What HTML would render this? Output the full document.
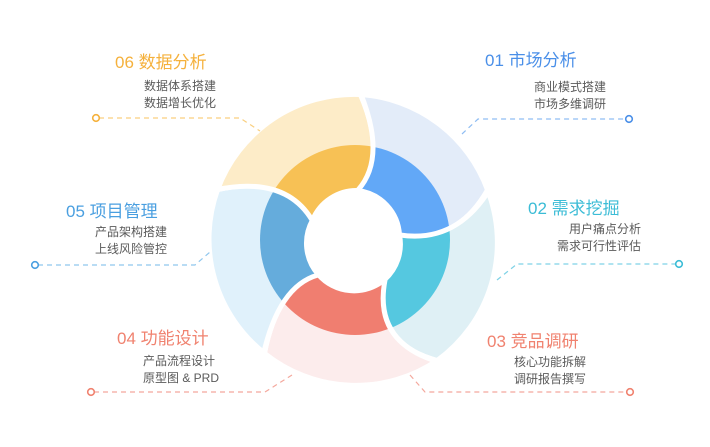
<!DOCTYPE html>
<html><head><meta charset="utf-8"><style>
body{margin:0;width:710px;height:447px;background:#fff;position:relative;overflow:hidden;font-family:"Liberation Sans","Noto Sans CJK SC",sans-serif}
.t{position:absolute;font-size:17px;white-space:nowrap;line-height:20px}
.s{position:absolute;font-size:12px;color:#5a5a5a;line-height:17px;white-space:nowrap}
.r{text-align:right}
</style></head><body>
<svg width="710" height="447" style="position:absolute;left:0;top:0">
<defs>
<clipPath id="ci"><circle cx="355" cy="240" r="95"/></clipPath>
<path id="p1" d="M360,95 A145,145 0 0 1 487,190 Q456.5,243.5 400,235 A48,48 0 0 0 358,190 Q387,157.5 360,95 Z"/>
<path id="p2" d="M487,190 A145,145 0 0 1 437,360 Q373,342.5 385,280 A48,48 0 0 0 400,235 Q456.5,243.5 487,190 Z"/>
<path id="p3" d="M437,360 A145,145 0 0 1 265,353 Q278.5,286 318,275 A48,48 0 0 0 385,280 Q373,342.5 437,360 Z"/>
<path id="p4" d="M265,353 A145,145 0 0 1 218,190 Q285,175 312,220 A48,48 0 0 0 318,275 Q278.5,286 265,353 Z"/>
<path id="p5" d="M218,190 A145,145 0 0 1 360,95 Q387,157.5 358,190 A48,48 0 0 0 312,220 Q285,175 218,190 Z"/>
</defs>
<g stroke="#fff" stroke-width="4" stroke-linejoin="round">
<use href="#p1" fill="#e3ecf9"/><use href="#p2" fill="#dff0f5"/><use href="#p3" fill="#fcecec"/><use href="#p4" fill="#e0f1fb"/><use href="#p5" fill="#fdecc8"/>
</g>
<g clip-path="url(#ci)" stroke="#fff" stroke-width="4" stroke-linejoin="round">
<use href="#p1" fill="#62a8f7"/><use href="#p2" fill="#55c8e0"/><use href="#p3" fill="#f07e70"/><use href="#p4" fill="#65acdc"/><use href="#p5" fill="#f7c155"/>
</g>
<g fill="none" stroke="#fff" stroke-width="5" stroke-linecap="round">
<path d="M360,92 Q387,157.5 358,190"/>
<path d="M490,189 Q456.5,243.5 400,235"/>
<path d="M439,362 Q373,342.5 385,280"/>
<path d="M263,356 Q278.5,286 318,275"/>
<path d="M215,190 Q285,175 312,220"/>
</g>
<circle cx="355" cy="240" r="46" fill="#fff"/>
<g fill="none" stroke-width="1.2" stroke-dasharray="5,4">
<path d="M462,134 L478,119 L625,119" stroke="#8fbdf3"/>
<path d="M497,280 L517,264 L675,264" stroke="#7fd2e6"/>
<path d="M410,375 L425,392 L627,392" stroke="#f4a89d"/>
<path d="M99,118 L240,118 L260,131" stroke="#f9cf7f"/>
<path d="M38,265 L195,265 L210,252" stroke="#8fc6ee"/>
<path d="M94,392 L265,392 L292,375" stroke="#f4a89d"/>
</g>
<g fill="#fff" stroke-width="1.6">
<circle cx="629" cy="119" r="3.3" stroke="#4a8fe8"/>
<circle cx="679" cy="264" r="3.3" stroke="#3bbcd6"/>
<circle cx="630" cy="392" r="3.3" stroke="#f0826f"/>
<circle cx="96" cy="118" r="3.3" stroke="#f5b13c"/>
<circle cx="35" cy="265" r="3.3" stroke="#4a9fe0"/>
<circle cx="91" cy="392" r="3.3" stroke="#f0826f"/>
</g>
</svg>
<div class="t" style="left:485px;top:51px;color:#4a8fe8">01 市场分析</div>
<div class="s r" style="right:104px;top:79px">商业模式搭建<br>市场多维调研</div>
<div class="t" style="left:528px;top:199px;color:#3bbcd6">02 需求挖掘</div>
<div class="s r" style="right:69px;top:221px">用户痛点分析<br>需求可行性评估</div>
<div class="t" style="left:487px;top:332px;color:#f0826f">03 竞品调研</div>
<div class="s r" style="right:124px;top:354px">核心功能拆解<br>调研报告撰写</div>
<div class="t" style="left:115px;top:53px;color:#f5b13c">06 数据分析</div>
<div class="s" style="left:144px;top:78px">数据体系搭建<br>数据增长优化</div>
<div class="t" style="left:66px;top:202px;color:#4a9fe0">05 项目管理</div>
<div class="s" style="left:95px;top:224px">产品架构搭建<br>上线风险管控</div>
<div class="t" style="left:117px;top:329px;color:#f0826f">04 功能设计</div>
<div class="s" style="left:143px;top:353px">产品流程设计<br>原型图 &amp; PRD</div>
</body></html>
